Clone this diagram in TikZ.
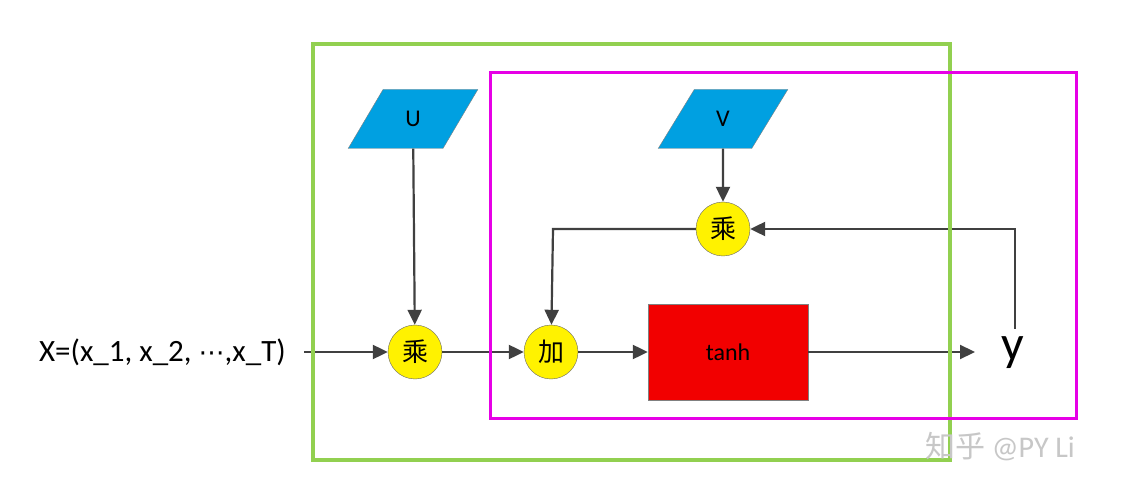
\documentclass[tikz,border=0pt]{standalone}
\usepackage{fontspec}
\setmainfont{Carlito}
\newfontfamily\cjk{Noto Sans CJK SC}
\newfontfamily\dv{DejaVu Sans}
\usetikzlibrary{shapes.geometric,arrows.meta}
\begin{document}
\begin{tikzpicture}[x=1pt,y=-1pt,
  ln/.style={draw=black!75,line width=2.2pt},
  ar/.style={ln,-{Triangle[length=15pt,width=14pt]}},
  op/.style={circle,draw=black!60,fill=yellow,minimum size=54pt,inner sep=0pt,font=\cjk\fontsize{26}{26}\selectfont},
  par/.style={trapezium,trapezium stretches=true,trapezium left angle=60,trapezium right angle=120,draw=black!50,fill={rgb,255:red,0;green,160;blue,225},minimum width=130pt,minimum height=59pt,font=\fontsize{24}{24}\selectfont}]
\useasboundingbox (0,0) rectangle (1122,494);
\fill[white] (0,0) rectangle (1122,494);
\node[par] (U) at (413,119) {U};
\node[par] (V) at (723,119) {V};
\node[op] (m1) at (415,352) {乘};
\node[op] (a) at (551,352) {加};
\node[op] (m2) at (723,229) {乘};
\node[draw=black!50,fill=red!95!black,minimum width=160pt,minimum height=96pt,font=\fontsize{24}{24}\selectfont] (t) at (728,352) {tanh};
\node[font=\fontsize{50}{50}\selectfont,inner sep=0pt] (y) at (1013,353) {y};
\node[anchor=east,font=\fontsize{31}{31}\selectfont,inner sep=0pt] (x) at (286,352) {X=(x\_1, x\_2, {\dv\fontsize{26}{26}\selectfont ⋯},x\_T)};
\coordinate (xs) at (304,352);
\coordinate (ye) at (975,352);
\coordinate (c1) at (1015,329);
\coordinate (c2) at (1015,229);
\coordinate (c3) at (553,229);
\draw[ar] (xs) -- (m1);
\draw[ar] (m1) -- (a);
\draw[ar] (a) -- (t);
\draw[ar] (t.east) -- (ye);
\draw[ar] (U) -- (m1);
\draw[ar] (V) -- (m2);
\draw[ar] (c1) -- (c2) -- (m2);
\draw[ar] (m2) -- (c3) -- (a);
\draw[line width=4pt,color={rgb,255:red,146;green,208;blue,80}] (313,44) rectangle (950,460);
\draw[line width=3pt,color={rgb,255:red,230;green,0;blue,230}] (490,73) rectangle (1076,418);
\node[font=\cjk\fontsize{30}{30}\selectfont,text=black!22] (wm) at (1000,447) {知乎 \fontspec{Carlito}@PY Li};
\end{tikzpicture}
\end{document}
